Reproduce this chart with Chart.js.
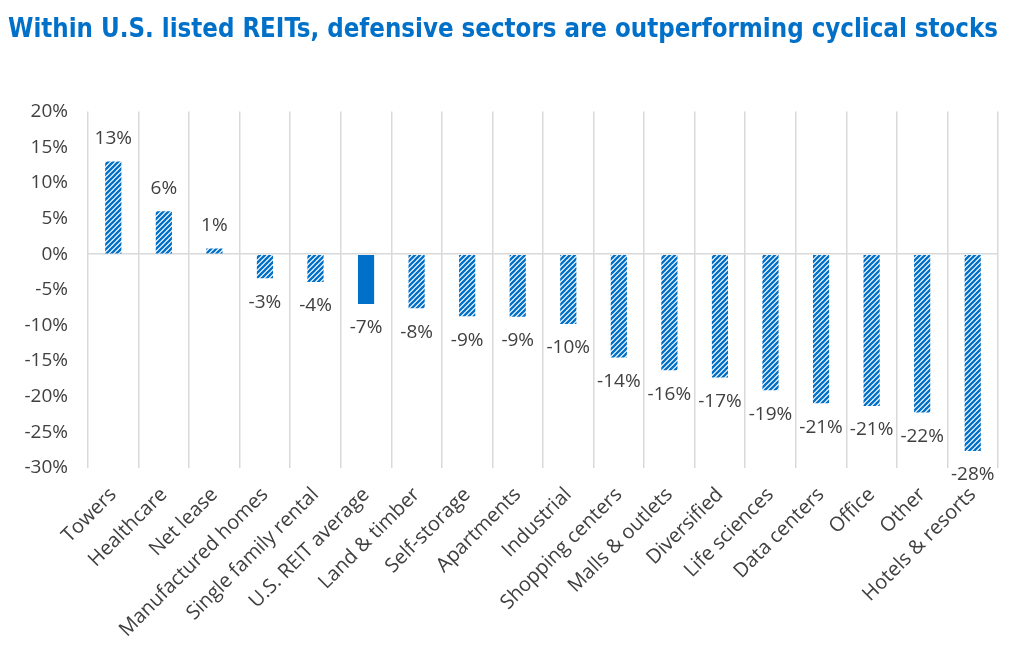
<!DOCTYPE html>
<html>
<head>
<meta charset="utf-8">
<script src="https://cdn.jsdelivr.net/npm/chart.js@4.4.1/dist/chart.umd.min.js"></script>
<style>
  html, body { margin: 0; padding: 0; background: #fff; }
  #wrap { width: 1020px; height: 646px; }
</style>
</head>
<body>
<div id="wrap"><canvas id="reitChart"></canvas></div>
<script>
const sectors = [
  "Towers", "Healthcare", "Net lease", "Manufactured homes", "Single family rental",
  "U.S. REIT average", "Land & timber", "Self-storage", "Apartments", "Industrial",
  "Shopping centers", "Malls & outlets", "Diversified", "Life sciences", "Data centers",
  "Office", "Other", "Hotels & resorts"
];
const returns = [
  13.0, 6.0, 0.8, -3.4, -3.9,
  -7.0, -7.6, -8.7, -8.8, -9.8,
  -14.5, -16.3, -17.3, -19.1, -20.9,
  -21.3, -22.2, -27.6
];
const yTicks = [20, 15, 10, 5, 0, -5, -10, -15, -20, -25, -30];

const blue = "#0070C8";
const textGrey = "#404040";

function stripePattern() {
  const c = document.createElement("canvas");
  c.width = 5;
  c.height = 5;
  const g = c.getContext("2d");
  g.fillStyle = "#fff";
  g.fillRect(0, 0, 5, 5);
  g.strokeStyle = blue;
  g.lineWidth = 2.3;
  g.beginPath();
  g.moveTo(-1, 6); g.lineTo(6, -1);
  g.moveTo(-1, 1); g.lineTo(1, -1);
  g.moveTo(4, 6); g.lineTo(6, 4);
  g.stroke();
  return g.createPattern(c, "repeat");
}

const valueLabels = {
  id: "valueLabels",
  afterDatasetsDraw(chart) {
    const c = chart.ctx;
    const meta = chart.getDatasetMeta(0);
    c.save();
    c.font = "19px 'Open Sans'";
    c.fillStyle = textGrey;
    c.textAlign = "center";
    c.textBaseline = "middle";
    meta.data.forEach((bar, i) => {
      const v = returns[i];
      const y = v >= 0 ? bar.y - 23 : bar.y + 24;
      c.fillText(Math.round(v) + "%", bar.x, y);
    });
    c.restore();
  }
};

function draw() {
  const ctx = document.getElementById("reitChart").getContext("2d");
  const stripes = stripePattern();

  new Chart(ctx, {
    type: "bar",
    data: {
      labels: sectors,
      datasets: [{
        data: returns,
        backgroundColor: sectors.map(s => s === "U.S. REIT average" ? blue : stripes),
        borderWidth: 0,
        barPercentage: 0.32,
        categoryPercentage: 1
      }]
    },
    options: {
      responsive: true,
      maintainAspectRatio: false,
      animation: false,
      layout: { padding: { left: 8, right: 22, top: 0, bottom: 0 } },
      plugins: {
        legend: { display: false },
        tooltip: { enabled: false },
        title: {
          display: true,
          text: "Within U.S. listed REITs, defensive sectors are outperforming cyclical stocks",
          align: "start",
          color: blue,
          font: { family: "'Liberation Sans Narrow', 'DejaVu Sans Condensed', sans-serif", size: 26.3, weight: "bold" },
          padding: { top: 14, bottom: 66 }
        }
      },
      scales: {
        x: {
          grid: { color: "#d9d9d9", lineWidth: 1.5, drawTicks: false, offset: true },
          border: { display: false },
          afterFit(axis) { axis.height = 178; },
          ticks: {
            color: textGrey,
            font: { family: "'Open Sans'", size: 20 },
            maxRotation: 45,
            minRotation: 45,
            autoSkip: false,
            padding: 15
          }
        },
        y: {
          min: -30,
          max: 20,
          afterBuildTicks(axis) {
            axis.ticks = yTicks.map(v => ({ value: v }));
          },
          afterFit(axis) { axis.width = 80; },
          grid: {
            color: c => c.tick && c.tick.value === 0 ? "#d9d9d9" : "rgba(0,0,0,0)",
            lineWidth: 1.5,
            drawTicks: false
          },
          border: { display: false },
          ticks: {
            color: textGrey,
            font: { family: "'Open Sans'", size: 19 },
            padding: 20,
            callback: v => v + "%"
          }
        }
      }
    },
    plugins: [valueLabels]
  });
}

Promise.all([
  document.fonts.load("19px 'Open Sans'"),
  document.fonts.load("bold 26px 'Liberation Sans Narrow'")
]).then(draw, draw);
</script>
</body>
</html>
